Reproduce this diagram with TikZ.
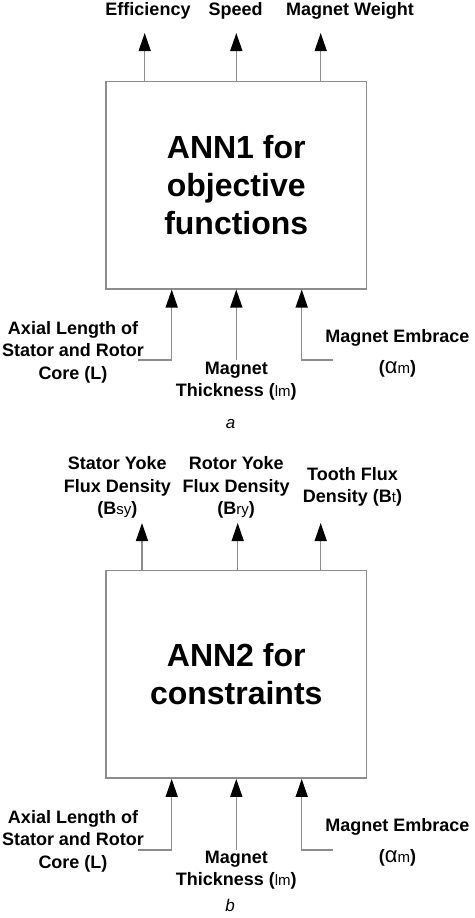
\documentclass[tikz,border=0pt]{standalone}
\usepackage{fontspec}
\setmainfont{Liberation Sans}
\usetikzlibrary{arrows.meta}
\definecolor{linegray}{RGB}{140,140,140}
\newcommand{\sbx}[1]{{\fontsize{15}{15}\selectfont\mdseries #1}}
\newcommand{\alphm}{{\fontsize{22}{22}\selectfont\mdseries α}\sbx{m}}
\begin{document}
\begin{tikzpicture}[x=1pt,y=-1pt,
  arr/.style={draw=linegray, line width=1.5pt, -{Triangle[length=18pt,width=12pt,color=black]}},
  annbox/.style={draw=linegray, line width=1.5pt, minimum width=260.5pt, minimum height=207.5pt, inner sep=0pt, align=center, font=\fontsize{32}{38}\selectfont\bfseries},
  lbl/.style={inner sep=0pt, anchor=base, align=center, font=\fontsize{18}{22.3}\selectfont\bfseries},
  captxt/.style={inner sep=0pt, anchor=base, font=\fontsize{17}{20}\selectfont\itshape}
]
\useasboundingbox (0,0) rectangle (474,918);

% ---------- part a ----------
\node[annbox] (box1) at (236.25,185) {ANN1 for\\objective\\functions};

\node[lbl] (eff) at (148,15) {Efficiency};
\node[lbl] (spd) at (235.7,15) {Speed};
\node[lbl] (mw)  at (350,15) {Magnet Weight};

\coordinate (o11) at (144.7,33);
\coordinate (o12) at (236.3,33);
\coordinate (o13) at (320.7,33);
\draw[arr] (box1.north -| o11) -- (o11);
\draw[arr] (box1.north -| o12) -- (o12);
\draw[arr] (box1.north -| o13) -- (o13);

\coordinate (s11) at (138,360);
\coordinate (s12) at (236.3,360);
\coordinate (s13) at (333,360);
\draw[arr] (s11) -| ([xshift=-64.55pt]box1.south);
\draw[arr] (s12) -- (box1.south -| s12);
\draw[arr] (s13) -| ([xshift=65.45pt]box1.south);

% base anchor of a multi-line label = baseline of its last line
\node[lbl] (ax1) at (73,379) {Axial Length of\\Stator and Rotor\\Core (L)};
\node[lbl] (mt1) at (236.3,396.7) {Magnet\\Thickness (\sbx{lm})};
\node[lbl] (me1) at (397.5,373) {Magnet Embrace\\[8.7pt](\alphm)};

\node[captxt] (capa) at (230.5,428) {a};

% ---------- part b ----------
\node[annbox] (box2) at (236.25,674.4) {ANN2 for\\constraints};

\node[lbl] (sy) at (117.3,514.3) {Stator Yoke\\Flux Density\\(B\sbx{sy})};
\node[lbl] (ry) at (236.2,514.3) {Rotor Yoke\\Flux Density\\(B\sbx{ry})};
\node[lbl] (tf) at (352.5,502.3) {Tooth Flux\\Density (B\sbx{t})};

\coordinate (o21) at (142,523);
\coordinate (o22) at (237.7,523);
\coordinate (o23) at (320.7,523);
\draw[arr] (box2.north -| o21) -- (o21);
\draw[arr] (box2.north -| o22) -- (o22);
\draw[arr] (box2.north -| o23) -- (o23);

\coordinate (s21) at (138,850);
\coordinate (s22) at (236.3,850);
\coordinate (s23) at (333,850);
\draw[arr] (s21) -| ([xshift=-64.55pt]box2.south);
\draw[arr] (s22) -- (box2.south -| s22);
\draw[arr] (s23) -| ([xshift=65.45pt]box2.south);

\node[lbl] (ax2) at (73,868) {Axial Length of\\Stator and Rotor\\Core (L)};
\node[lbl] (mt2) at (236.3,885.7) {Magnet\\Thickness (\sbx{lm})};
\node[lbl] (me2) at (397.5,862) {Magnet Embrace\\[8.7pt](\alphm)};

\node[captxt] (capb) at (230,911.7) {b};
\end{tikzpicture}
\end{document}
